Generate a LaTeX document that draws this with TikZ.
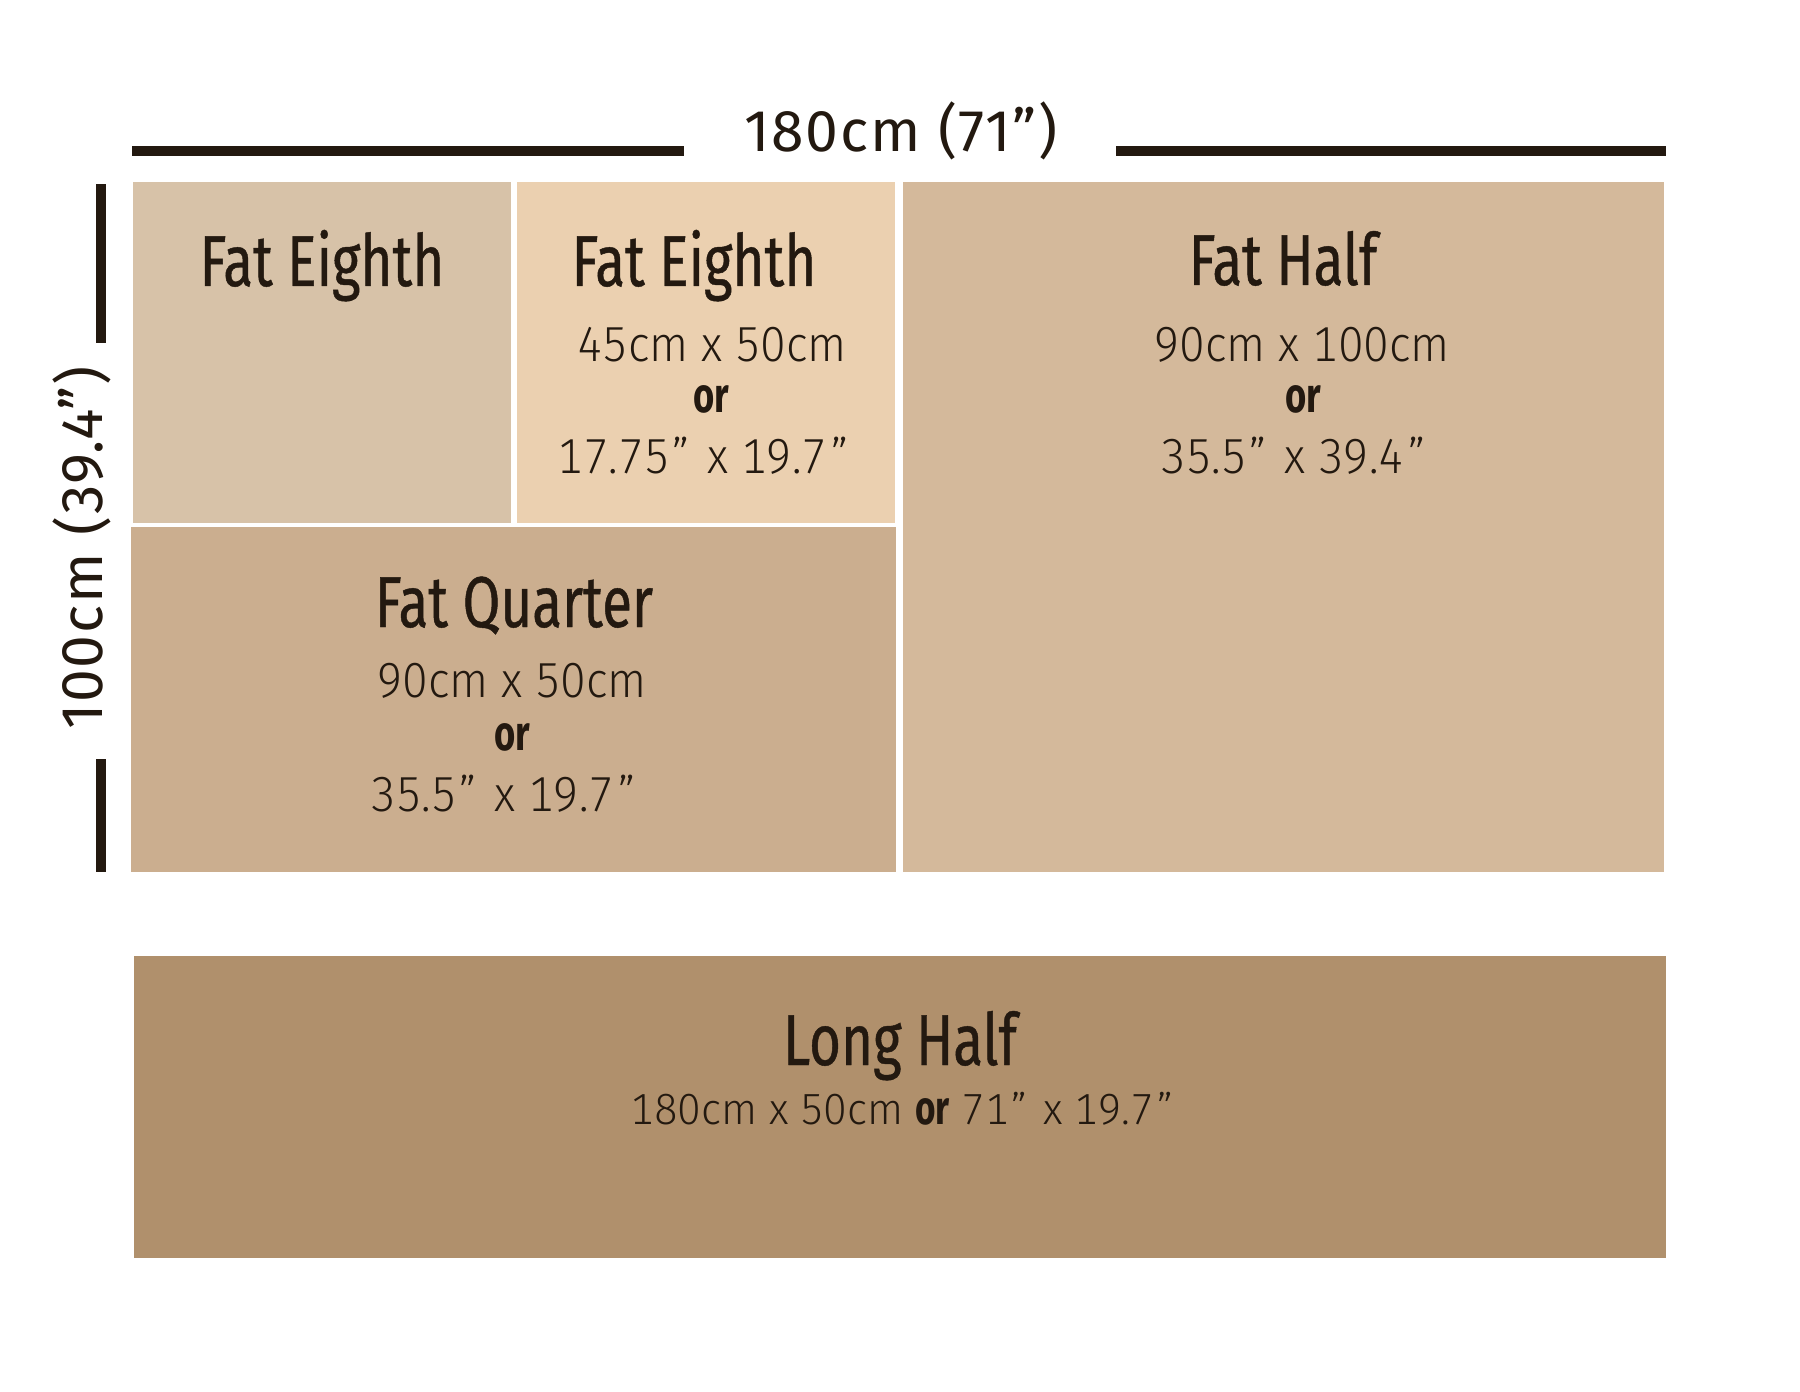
\documentclass[tikz,border=0pt]{standalone}
\usepackage{fontspec}
\IfFontExistsTF{Fira Sans Light}
  {\newfontfamily\dimfont{Fira Sans Light}[FakeStretch=0.93,Numbers=Monospaced]
   \newfontfamily\lhfont{Fira Sans Light}[FakeStretch=0.97,Numbers=Monospaced]}
  {\newfontfamily\dimfont{Fira Sans}[FakeStretch=0.93,Numbers=Monospaced]
   \newfontfamily\lhfont{Fira Sans}[FakeStretch=0.97,Numbers=Monospaced]}
\newfontfamily\ttlfont{Fira Sans}[FakeStretch=0.76,FakeBold=0.6]
\newfontfamily\orfont{Fira Sans}[FakeStretch=0.74]
\newfontfamily\hdrfont{Fira Sans}[LetterSpace=3]
\newcommand\inch{\kern0.06em”\kern0.1em}
\newcommand\inchend{\kern0.08em”}
\definecolor{ink}{HTML}{231910}
\definecolor{feA}{HTML}{D7C2A8}
\definecolor{feB}{HTML}{EBD0B0}
\definecolor{fhC}{HTML}{D4B99B}
\definecolor{fqC}{HTML}{CBAE8F}
\definecolor{lhC}{HTML}{B0906C}
\tikzset{
  lbl/.style={inner sep=0pt,anchor=base,text=ink},
  ttl/.style={lbl,font=\ttlfont\fontsize{41}{48}\selectfont},
  dim/.style={lbl,font=\dimfont\fontsize{28}{34}\selectfont},
  orw/.style={lbl,font=\orfont\bfseries\fontsize{28}{34}\selectfont},
  hdr/.style={lbl,font=\hdrfont\fontsize{33.5}{40}\selectfont},
}
\begin{document}
\begin{tikzpicture}[x=0.02cm,y=-0.02cm]
\useasboundingbox (0,0) rectangle (1800,1392);
% dimension bars
\fill[ink] (132,146) rectangle (684,156);
\fill[ink] (1116,146) rectangle (1666,156);
\fill[ink] (96,184) rectangle (106,343);
\fill[ink] (96,759) rectangle (106,872);
% pieces
\fill[feA] (133,182) rectangle (511,523);
\fill[feB] (517,182) rectangle (895,523);
\fill[fhC] (903,182) rectangle (1664,872);
\fill[fqC] (131,527) rectangle (896,872);
\fill[lhC] (134,956) rectangle (1666,1258);
% header labels
\node[hdr] (top) at (901,152) {180cm (71”)};
\node[hdr,rotate=90] (side) at (102,548) {100cm (39.4”)};
% fat eighth 1
\node[ttl] (fe1) at (322,286) {Fat Eighth};
% fat eighth 2
\node[ttl] (fe2) at (694,286) {Fat Eighth};
\node[dim] (fe2a) at (712,362) {45cm x 50cm};
\node[orw] (fe2o) at (711,413) {or};
\node[dim] (fe2b) at (703,474) {17.75\inch{} x 19.7\inchend};
% fat half
\node[ttl] (fh) at (1283,285) {Fat Half};
\node[dim] (fha) at (1302,362) {90cm x 100cm};
\node[orw] (fho) at (1303,413) {or};
\node[dim] (fhb) at (1293,474) {35.5\inch{} x 39.4\inchend};
% fat quarter
\node[ttl] (fq) at (514,627) {Fat Quarter};
\node[dim] (fqa) at (512,697) {90cm x 50cm};
\node[orw] (fqo) at (512,750) {or};
\node[dim] (fqb) at (503,811) {35.5\inch{} x 19.7\inchend};
% long half
\node[ttl] (lh) at (900,1065) {Long Half};
\node[lbl,font=\lhfont\fontsize{24.8}{30}\selectfont] (lha) at (902,1124)
  {180cm x 50cm {\orfont\bfseries\fontsize{27}{30}\selectfont or} 71\inch{} x 19.7\inchend};
\end{tikzpicture}
\end{document}
